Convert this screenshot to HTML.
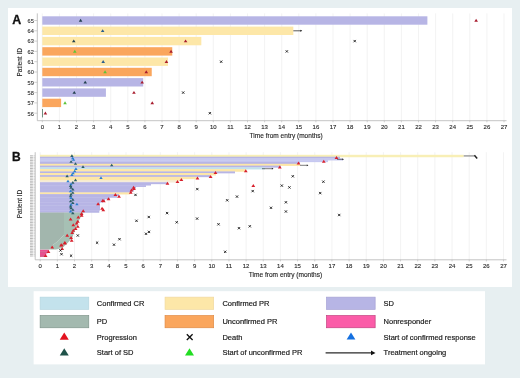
<!DOCTYPE html>
<html><head><meta charset="utf-8">
<style>
html,body{margin:0;padding:0;}
body{width:520px;height:378px;overflow:hidden;background:#e7eff1;font-family:"Liberation Sans",sans-serif;}
svg{display:block;position:absolute;left:0;top:0;filter:blur(0.3px);}
svg text{font-family:"Liberation Sans",sans-serif;}
</style></head>
<body>
<svg width="520" height="378" viewBox="0 0 520 378">
<rect x="0" y="0" width="520" height="378" fill="#e7eff1"/>
<rect x="8" y="8" width="504" height="279" fill="#ffffff"/>
<rect x="33.6" y="291.2" width="451.4" height="73.2" fill="#ffffff"/>
<line x1="42.30" y1="13.4" x2="42.30" y2="120.7" stroke="#eeeeee" stroke-width="0.7"/>
<line x1="59.40" y1="13.4" x2="59.40" y2="120.7" stroke="#eeeeee" stroke-width="0.7"/>
<line x1="76.50" y1="13.4" x2="76.50" y2="120.7" stroke="#eeeeee" stroke-width="0.7"/>
<line x1="93.60" y1="13.4" x2="93.60" y2="120.7" stroke="#eeeeee" stroke-width="0.7"/>
<line x1="110.70" y1="13.4" x2="110.70" y2="120.7" stroke="#eeeeee" stroke-width="0.7"/>
<line x1="127.80" y1="13.4" x2="127.80" y2="120.7" stroke="#eeeeee" stroke-width="0.7"/>
<line x1="144.90" y1="13.4" x2="144.90" y2="120.7" stroke="#eeeeee" stroke-width="0.7"/>
<line x1="162.00" y1="13.4" x2="162.00" y2="120.7" stroke="#eeeeee" stroke-width="0.7"/>
<line x1="179.10" y1="13.4" x2="179.10" y2="120.7" stroke="#eeeeee" stroke-width="0.7"/>
<line x1="196.20" y1="13.4" x2="196.20" y2="120.7" stroke="#eeeeee" stroke-width="0.7"/>
<line x1="213.30" y1="13.4" x2="213.30" y2="120.7" stroke="#eeeeee" stroke-width="0.7"/>
<line x1="230.40" y1="13.4" x2="230.40" y2="120.7" stroke="#eeeeee" stroke-width="0.7"/>
<line x1="247.50" y1="13.4" x2="247.50" y2="120.7" stroke="#eeeeee" stroke-width="0.7"/>
<line x1="264.60" y1="13.4" x2="264.60" y2="120.7" stroke="#eeeeee" stroke-width="0.7"/>
<line x1="281.70" y1="13.4" x2="281.70" y2="120.7" stroke="#eeeeee" stroke-width="0.7"/>
<line x1="298.80" y1="13.4" x2="298.80" y2="120.7" stroke="#eeeeee" stroke-width="0.7"/>
<line x1="315.90" y1="13.4" x2="315.90" y2="120.7" stroke="#eeeeee" stroke-width="0.7"/>
<line x1="333.00" y1="13.4" x2="333.00" y2="120.7" stroke="#eeeeee" stroke-width="0.7"/>
<line x1="350.10" y1="13.4" x2="350.10" y2="120.7" stroke="#eeeeee" stroke-width="0.7"/>
<line x1="367.20" y1="13.4" x2="367.20" y2="120.7" stroke="#eeeeee" stroke-width="0.7"/>
<line x1="384.30" y1="13.4" x2="384.30" y2="120.7" stroke="#eeeeee" stroke-width="0.7"/>
<line x1="401.40" y1="13.4" x2="401.40" y2="120.7" stroke="#eeeeee" stroke-width="0.7"/>
<line x1="418.50" y1="13.4" x2="418.50" y2="120.7" stroke="#eeeeee" stroke-width="0.7"/>
<line x1="435.60" y1="13.4" x2="435.60" y2="120.7" stroke="#eeeeee" stroke-width="0.7"/>
<line x1="452.70" y1="13.4" x2="452.70" y2="120.7" stroke="#eeeeee" stroke-width="0.7"/>
<line x1="469.80" y1="13.4" x2="469.80" y2="120.7" stroke="#eeeeee" stroke-width="0.7"/>
<line x1="486.90" y1="13.4" x2="486.90" y2="120.7" stroke="#eeeeee" stroke-width="0.7"/>
<line x1="504.00" y1="13.4" x2="504.00" y2="120.7" stroke="#eeeeee" stroke-width="0.7"/>
<rect x="42.30" y="16.30" width="385.09" height="8.4" fill="#b7b5e5"/>
<path d="M78.80,21.74L80.60,18.86L82.40,21.74Z" fill="#22404e"/>
<path d="M474.33,21.74L476.13,18.86L477.93,21.74Z" fill="#a81c2e"/>
<line x1="34.3" y1="20.50" x2="37.3" y2="20.50" stroke="#b4b4b4" stroke-width="0.6"/>
<text x="33.8" y="22.80" font-size="5.6" text-anchor="end" fill="#333333" stroke="#333333" stroke-width="0.12">65</text>
<rect x="42.30" y="26.60" width="251.03" height="8.4" fill="#fde7a8"/>
<line x1="293.33" y1="30.80" x2="301.22" y2="30.80" stroke="#111" stroke-width="0.7"/>
<path d="M300.42,29.80L302.22,30.80L300.42,31.80Z" fill="#111"/>
<path d="M100.86,32.04L102.66,29.16L104.46,32.04Z" fill="#2b5f8e"/>
<line x1="34.3" y1="30.80" x2="37.3" y2="30.80" stroke="#b4b4b4" stroke-width="0.6"/>
<text x="33.8" y="33.10" font-size="5.6" text-anchor="end" fill="#333333" stroke="#333333" stroke-width="0.12">64</text>
<rect x="42.30" y="36.90" width="159.03" height="8.4" fill="#fde7a8"/>
<path d="M71.96,42.34L73.76,39.46L75.56,42.34Z" fill="#22404e"/>
<path d="M183.80,42.34L185.60,39.46L187.40,42.34Z" fill="#a81c2e"/>
<path d="M353.57,39.95L355.87,42.25M353.57,42.25L355.87,39.95" stroke="#1a1a1a" stroke-width="0.9" fill="none"/>
<line x1="34.3" y1="41.10" x2="37.3" y2="41.10" stroke="#b4b4b4" stroke-width="0.6"/>
<text x="33.8" y="43.40" font-size="5.6" text-anchor="end" fill="#333333" stroke="#333333" stroke-width="0.12">63</text>
<rect x="42.30" y="47.20" width="129.96" height="8.4" fill="#faa65d"/>
<path d="M72.99,52.64L74.79,49.76L76.59,52.64Z" fill="#5cc43a"/>
<path d="M169.26,52.64L171.06,49.76L172.86,52.64Z" fill="#a81c2e"/>
<path d="M285.68,50.25L287.98,52.55M285.68,52.55L287.98,50.25" stroke="#1a1a1a" stroke-width="0.9" fill="none"/>
<line x1="34.3" y1="51.40" x2="37.3" y2="51.40" stroke="#b4b4b4" stroke-width="0.6"/>
<text x="33.8" y="53.70" font-size="5.6" text-anchor="end" fill="#333333" stroke="#333333" stroke-width="0.12">62</text>
<rect x="42.30" y="57.50" width="125.69" height="8.4" fill="#fde7a8"/>
<path d="M101.38,62.94L103.18,60.06L104.98,62.94Z" fill="#2b5f8e"/>
<path d="M164.65,62.94L166.45,60.06L168.25,62.94Z" fill="#a81c2e"/>
<path d="M220.02,60.55L222.32,62.85M220.02,62.85L222.32,60.55" stroke="#1a1a1a" stroke-width="0.9" fill="none"/>
<line x1="34.3" y1="61.70" x2="37.3" y2="61.70" stroke="#b4b4b4" stroke-width="0.6"/>
<text x="33.8" y="64.00" font-size="5.6" text-anchor="end" fill="#333333" stroke="#333333" stroke-width="0.12">61</text>
<rect x="42.30" y="67.80" width="109.44" height="8.4" fill="#faa65d"/>
<path d="M103.26,73.24L105.06,70.36L106.86,73.24Z" fill="#5cc43a"/>
<path d="M144.47,73.24L146.27,70.36L148.07,73.24Z" fill="#a81c2e"/>
<line x1="34.3" y1="72.00" x2="37.3" y2="72.00" stroke="#b4b4b4" stroke-width="0.6"/>
<text x="33.8" y="74.30" font-size="5.6" text-anchor="end" fill="#333333" stroke="#333333" stroke-width="0.12">60</text>
<rect x="42.30" y="78.10" width="100.89" height="8.4" fill="#b7b5e5"/>
<path d="M83.42,83.54L85.22,80.66L87.02,83.54Z" fill="#22404e"/>
<path d="M140.36,83.54L142.16,80.66L143.96,83.54Z" fill="#a81c2e"/>
<line x1="34.3" y1="82.30" x2="37.3" y2="82.30" stroke="#b4b4b4" stroke-width="0.6"/>
<text x="33.8" y="84.60" font-size="5.6" text-anchor="end" fill="#333333" stroke="#333333" stroke-width="0.12">59</text>
<rect x="42.30" y="88.40" width="63.61" height="8.4" fill="#b7b5e5"/>
<path d="M72.48,93.84L74.28,90.96L76.08,93.84Z" fill="#22404e"/>
<path d="M132.16,93.84L133.96,90.96L135.76,93.84Z" fill="#a81c2e"/>
<path d="M182.05,91.45L184.35,93.75M182.05,93.75L184.35,91.45" stroke="#1a1a1a" stroke-width="0.9" fill="none"/>
<line x1="34.3" y1="92.60" x2="37.3" y2="92.60" stroke="#b4b4b4" stroke-width="0.6"/>
<text x="33.8" y="94.90" font-size="5.6" text-anchor="end" fill="#333333" stroke="#333333" stroke-width="0.12">58</text>
<rect x="42.30" y="98.70" width="18.81" height="8.4" fill="#faa65d"/>
<path d="M63.24,104.14L65.04,101.26L66.84,104.14Z" fill="#5cc43a"/>
<path d="M150.45,104.14L152.25,101.26L154.05,104.14Z" fill="#a81c2e"/>
<line x1="34.3" y1="102.90" x2="37.3" y2="102.90" stroke="#b4b4b4" stroke-width="0.6"/>
<text x="33.8" y="105.20" font-size="5.6" text-anchor="end" fill="#333333" stroke="#333333" stroke-width="0.12">57</text>
<rect x="42.00" y="109.00" width="1.0" height="8.4" fill="#6f8f80"/>
<path d="M43.58,114.44L45.38,111.56L47.18,114.44Z" fill="#a81c2e"/>
<path d="M208.73,112.05L211.03,114.35M208.73,114.35L211.03,112.05" stroke="#1a1a1a" stroke-width="0.9" fill="none"/>
<line x1="34.3" y1="113.20" x2="37.3" y2="113.20" stroke="#b4b4b4" stroke-width="0.6"/>
<text x="33.8" y="115.50" font-size="5.6" text-anchor="end" fill="#333333" stroke="#333333" stroke-width="0.12">56</text>
<line x1="37.3" y1="13.4" x2="37.3" y2="120.7" stroke="#b4b4b4" stroke-width="0.8"/>
<line x1="37.3" y1="120.7" x2="506.5" y2="120.7" stroke="#b4b4b4" stroke-width="0.8"/>
<line x1="42.30" y1="120.7" x2="42.30" y2="122.3" stroke="#b4b4b4" stroke-width="0.6"/>
<text x="42.30" y="128.70" font-size="6" text-anchor="middle" fill="#2a2a2a" stroke="#2a2a2a" stroke-width="0.12">0</text>
<line x1="59.40" y1="120.7" x2="59.40" y2="122.3" stroke="#b4b4b4" stroke-width="0.6"/>
<text x="59.40" y="128.70" font-size="6" text-anchor="middle" fill="#2a2a2a" stroke="#2a2a2a" stroke-width="0.12">1</text>
<line x1="76.50" y1="120.7" x2="76.50" y2="122.3" stroke="#b4b4b4" stroke-width="0.6"/>
<text x="76.50" y="128.70" font-size="6" text-anchor="middle" fill="#2a2a2a" stroke="#2a2a2a" stroke-width="0.12">2</text>
<line x1="93.60" y1="120.7" x2="93.60" y2="122.3" stroke="#b4b4b4" stroke-width="0.6"/>
<text x="93.60" y="128.70" font-size="6" text-anchor="middle" fill="#2a2a2a" stroke="#2a2a2a" stroke-width="0.12">3</text>
<line x1="110.70" y1="120.7" x2="110.70" y2="122.3" stroke="#b4b4b4" stroke-width="0.6"/>
<text x="110.70" y="128.70" font-size="6" text-anchor="middle" fill="#2a2a2a" stroke="#2a2a2a" stroke-width="0.12">4</text>
<line x1="127.80" y1="120.7" x2="127.80" y2="122.3" stroke="#b4b4b4" stroke-width="0.6"/>
<text x="127.80" y="128.70" font-size="6" text-anchor="middle" fill="#2a2a2a" stroke="#2a2a2a" stroke-width="0.12">5</text>
<line x1="144.90" y1="120.7" x2="144.90" y2="122.3" stroke="#b4b4b4" stroke-width="0.6"/>
<text x="144.90" y="128.70" font-size="6" text-anchor="middle" fill="#2a2a2a" stroke="#2a2a2a" stroke-width="0.12">6</text>
<line x1="162.00" y1="120.7" x2="162.00" y2="122.3" stroke="#b4b4b4" stroke-width="0.6"/>
<text x="162.00" y="128.70" font-size="6" text-anchor="middle" fill="#2a2a2a" stroke="#2a2a2a" stroke-width="0.12">7</text>
<line x1="179.10" y1="120.7" x2="179.10" y2="122.3" stroke="#b4b4b4" stroke-width="0.6"/>
<text x="179.10" y="128.70" font-size="6" text-anchor="middle" fill="#2a2a2a" stroke="#2a2a2a" stroke-width="0.12">8</text>
<line x1="196.20" y1="120.7" x2="196.20" y2="122.3" stroke="#b4b4b4" stroke-width="0.6"/>
<text x="196.20" y="128.70" font-size="6" text-anchor="middle" fill="#2a2a2a" stroke="#2a2a2a" stroke-width="0.12">9</text>
<line x1="213.30" y1="120.7" x2="213.30" y2="122.3" stroke="#b4b4b4" stroke-width="0.6"/>
<text x="213.30" y="128.70" font-size="6" text-anchor="middle" fill="#2a2a2a" stroke="#2a2a2a" stroke-width="0.12">10</text>
<line x1="230.40" y1="120.7" x2="230.40" y2="122.3" stroke="#b4b4b4" stroke-width="0.6"/>
<text x="230.40" y="128.70" font-size="6" text-anchor="middle" fill="#2a2a2a" stroke="#2a2a2a" stroke-width="0.12">11</text>
<line x1="247.50" y1="120.7" x2="247.50" y2="122.3" stroke="#b4b4b4" stroke-width="0.6"/>
<text x="247.50" y="128.70" font-size="6" text-anchor="middle" fill="#2a2a2a" stroke="#2a2a2a" stroke-width="0.12">12</text>
<line x1="264.60" y1="120.7" x2="264.60" y2="122.3" stroke="#b4b4b4" stroke-width="0.6"/>
<text x="264.60" y="128.70" font-size="6" text-anchor="middle" fill="#2a2a2a" stroke="#2a2a2a" stroke-width="0.12">13</text>
<line x1="281.70" y1="120.7" x2="281.70" y2="122.3" stroke="#b4b4b4" stroke-width="0.6"/>
<text x="281.70" y="128.70" font-size="6" text-anchor="middle" fill="#2a2a2a" stroke="#2a2a2a" stroke-width="0.12">14</text>
<line x1="298.80" y1="120.7" x2="298.80" y2="122.3" stroke="#b4b4b4" stroke-width="0.6"/>
<text x="298.80" y="128.70" font-size="6" text-anchor="middle" fill="#2a2a2a" stroke="#2a2a2a" stroke-width="0.12">15</text>
<line x1="315.90" y1="120.7" x2="315.90" y2="122.3" stroke="#b4b4b4" stroke-width="0.6"/>
<text x="315.90" y="128.70" font-size="6" text-anchor="middle" fill="#2a2a2a" stroke="#2a2a2a" stroke-width="0.12">16</text>
<line x1="333.00" y1="120.7" x2="333.00" y2="122.3" stroke="#b4b4b4" stroke-width="0.6"/>
<text x="333.00" y="128.70" font-size="6" text-anchor="middle" fill="#2a2a2a" stroke="#2a2a2a" stroke-width="0.12">17</text>
<line x1="350.10" y1="120.7" x2="350.10" y2="122.3" stroke="#b4b4b4" stroke-width="0.6"/>
<text x="350.10" y="128.70" font-size="6" text-anchor="middle" fill="#2a2a2a" stroke="#2a2a2a" stroke-width="0.12">18</text>
<line x1="367.20" y1="120.7" x2="367.20" y2="122.3" stroke="#b4b4b4" stroke-width="0.6"/>
<text x="367.20" y="128.70" font-size="6" text-anchor="middle" fill="#2a2a2a" stroke="#2a2a2a" stroke-width="0.12">19</text>
<line x1="384.30" y1="120.7" x2="384.30" y2="122.3" stroke="#b4b4b4" stroke-width="0.6"/>
<text x="384.30" y="128.70" font-size="6" text-anchor="middle" fill="#2a2a2a" stroke="#2a2a2a" stroke-width="0.12">20</text>
<line x1="401.40" y1="120.7" x2="401.40" y2="122.3" stroke="#b4b4b4" stroke-width="0.6"/>
<text x="401.40" y="128.70" font-size="6" text-anchor="middle" fill="#2a2a2a" stroke="#2a2a2a" stroke-width="0.12">21</text>
<line x1="418.50" y1="120.7" x2="418.50" y2="122.3" stroke="#b4b4b4" stroke-width="0.6"/>
<text x="418.50" y="128.70" font-size="6" text-anchor="middle" fill="#2a2a2a" stroke="#2a2a2a" stroke-width="0.12">22</text>
<line x1="435.60" y1="120.7" x2="435.60" y2="122.3" stroke="#b4b4b4" stroke-width="0.6"/>
<text x="435.60" y="128.70" font-size="6" text-anchor="middle" fill="#2a2a2a" stroke="#2a2a2a" stroke-width="0.12">23</text>
<line x1="452.70" y1="120.7" x2="452.70" y2="122.3" stroke="#b4b4b4" stroke-width="0.6"/>
<text x="452.70" y="128.70" font-size="6" text-anchor="middle" fill="#2a2a2a" stroke="#2a2a2a" stroke-width="0.12">24</text>
<line x1="469.80" y1="120.7" x2="469.80" y2="122.3" stroke="#b4b4b4" stroke-width="0.6"/>
<text x="469.80" y="128.70" font-size="6" text-anchor="middle" fill="#2a2a2a" stroke="#2a2a2a" stroke-width="0.12">25</text>
<line x1="486.90" y1="120.7" x2="486.90" y2="122.3" stroke="#b4b4b4" stroke-width="0.6"/>
<text x="486.90" y="128.70" font-size="6" text-anchor="middle" fill="#2a2a2a" stroke="#2a2a2a" stroke-width="0.12">26</text>
<line x1="504.00" y1="120.7" x2="504.00" y2="122.3" stroke="#b4b4b4" stroke-width="0.6"/>
<text x="504.00" y="128.70" font-size="6" text-anchor="middle" fill="#2a2a2a" stroke="#2a2a2a" stroke-width="0.12">27</text>
<text x="249.6" y="138.1" font-size="7.0" textLength="73.2" lengthAdjust="spacingAndGlyphs" fill="#222" stroke="#222" stroke-width="0.12">Time from entry (months)</text>
<text x="12.3" y="23.6" font-size="12.4" font-weight="bold" fill="#111" stroke="#111" stroke-width="0.3">A</text>
<text transform="translate(21.9,62.3) rotate(-90)" font-size="6.5" text-anchor="middle" fill="#222" stroke="#222" stroke-width="0.12">Patient ID</text>
<line x1="40.20" y1="152.2" x2="40.20" y2="259.8" stroke="#eeeeee" stroke-width="0.7"/>
<line x1="57.36" y1="152.2" x2="57.36" y2="259.8" stroke="#eeeeee" stroke-width="0.7"/>
<line x1="74.52" y1="152.2" x2="74.52" y2="259.8" stroke="#eeeeee" stroke-width="0.7"/>
<line x1="91.68" y1="152.2" x2="91.68" y2="259.8" stroke="#eeeeee" stroke-width="0.7"/>
<line x1="108.84" y1="152.2" x2="108.84" y2="259.8" stroke="#eeeeee" stroke-width="0.7"/>
<line x1="126.00" y1="152.2" x2="126.00" y2="259.8" stroke="#eeeeee" stroke-width="0.7"/>
<line x1="143.16" y1="152.2" x2="143.16" y2="259.8" stroke="#eeeeee" stroke-width="0.7"/>
<line x1="160.32" y1="152.2" x2="160.32" y2="259.8" stroke="#eeeeee" stroke-width="0.7"/>
<line x1="177.48" y1="152.2" x2="177.48" y2="259.8" stroke="#eeeeee" stroke-width="0.7"/>
<line x1="194.64" y1="152.2" x2="194.64" y2="259.8" stroke="#eeeeee" stroke-width="0.7"/>
<line x1="211.80" y1="152.2" x2="211.80" y2="259.8" stroke="#eeeeee" stroke-width="0.7"/>
<line x1="228.96" y1="152.2" x2="228.96" y2="259.8" stroke="#eeeeee" stroke-width="0.7"/>
<line x1="246.12" y1="152.2" x2="246.12" y2="259.8" stroke="#eeeeee" stroke-width="0.7"/>
<line x1="263.28" y1="152.2" x2="263.28" y2="259.8" stroke="#eeeeee" stroke-width="0.7"/>
<line x1="280.44" y1="152.2" x2="280.44" y2="259.8" stroke="#eeeeee" stroke-width="0.7"/>
<line x1="297.60" y1="152.2" x2="297.60" y2="259.8" stroke="#eeeeee" stroke-width="0.7"/>
<line x1="314.76" y1="152.2" x2="314.76" y2="259.8" stroke="#eeeeee" stroke-width="0.7"/>
<line x1="331.92" y1="152.2" x2="331.92" y2="259.8" stroke="#eeeeee" stroke-width="0.7"/>
<line x1="349.08" y1="152.2" x2="349.08" y2="259.8" stroke="#eeeeee" stroke-width="0.7"/>
<line x1="366.24" y1="152.2" x2="366.24" y2="259.8" stroke="#eeeeee" stroke-width="0.7"/>
<line x1="383.40" y1="152.2" x2="383.40" y2="259.8" stroke="#eeeeee" stroke-width="0.7"/>
<line x1="400.56" y1="152.2" x2="400.56" y2="259.8" stroke="#eeeeee" stroke-width="0.7"/>
<line x1="417.72" y1="152.2" x2="417.72" y2="259.8" stroke="#eeeeee" stroke-width="0.7"/>
<line x1="434.88" y1="152.2" x2="434.88" y2="259.8" stroke="#eeeeee" stroke-width="0.7"/>
<line x1="452.04" y1="152.2" x2="452.04" y2="259.8" stroke="#eeeeee" stroke-width="0.7"/>
<line x1="469.20" y1="152.2" x2="469.20" y2="259.8" stroke="#eeeeee" stroke-width="0.7"/>
<line x1="486.36" y1="152.2" x2="486.36" y2="259.8" stroke="#eeeeee" stroke-width="0.7"/>
<line x1="503.52" y1="152.2" x2="503.52" y2="259.8" stroke="#eeeeee" stroke-width="0.7"/>
<rect x="40.0" y="154.80" width="423.70" height="2.45" fill="#f8efb6"/>
<rect x="40.0" y="156.70" width="300.00" height="2.05" fill="#b7b5e5"/>
<rect x="40.0" y="158.40" width="303.00" height="2.05" fill="#c6c8f0"/>
<rect x="40.0" y="160.10" width="288.00" height="2.05" fill="#c6c8f0"/>
<rect x="40.0" y="161.80" width="260.00" height="2.35" fill="#b7b5e5"/>
<rect x="40.0" y="163.80" width="260.00" height="2.15" fill="#fde7a8"/>
<rect x="40.0" y="165.60" width="241.00" height="2.05" fill="#b7b5e5"/>
<rect x="40.0" y="167.30" width="225.00" height="2.15" fill="#c3e2ec"/>
<rect x="40.0" y="169.10" width="206.00" height="2.65" fill="#fde7a8"/>
<rect x="40.0" y="171.40" width="195.00" height="1.95" fill="#b7b5e5"/>
<rect x="40.0" y="173.00" width="176.00" height="2.45" fill="#fde7a8"/>
<rect x="40.0" y="175.10" width="170.00" height="2.05" fill="#b7b5e5"/>
<rect x="40.0" y="176.80" width="158.00" height="2.35" fill="#fde7a8"/>
<rect x="40.0" y="178.80" width="141.00" height="1.95" fill="#fde7a8"/>
<rect x="40.0" y="180.40" width="137.00" height="2.15" fill="#f6ecd8"/>
<rect x="40.0" y="182.20" width="127.00" height="1.95" fill="#b7b5e5"/>
<rect x="40.0" y="183.80" width="111.00" height="1.75" fill="#b7b5e5"/>
<rect x="40.0" y="185.20" width="106.00" height="1.75" fill="#b7b5e5"/>
<rect x="40.0" y="186.60" width="96.00" height="1.75" fill="#b7b5e5"/>
<rect x="40.0" y="188.00" width="95.00" height="1.95" fill="#b7b5e5"/>
<rect x="40.0" y="189.60" width="94.00" height="1.75" fill="#b7b5e5"/>
<rect x="40.0" y="191.00" width="92.00" height="1.75" fill="#b7b5e5"/>
<rect x="40.0" y="192.40" width="90.00" height="2.05" fill="#fde7a8"/>
<rect x="40.0" y="194.10" width="79.00" height="2.05" fill="#b7b5e5"/>
<rect x="40.0" y="195.80" width="77.00" height="1.95" fill="#b7b5e5"/>
<rect x="40.0" y="197.40" width="70.00" height="1.95" fill="#b7b5e5"/>
<rect x="40.0" y="199.00" width="65.00" height="1.95" fill="#b7b5e5"/>
<rect x="40.0" y="200.60" width="63.00" height="1.95" fill="#b7b5e5"/>
<rect x="40.0" y="202.20" width="60.00" height="1.95" fill="#b7b5e5"/>
<rect x="40.0" y="203.80" width="60.00" height="1.95" fill="#b7b5e5"/>
<rect x="40.0" y="205.40" width="60.00" height="1.95" fill="#b7b5e5"/>
<rect x="40.0" y="207.00" width="60.00" height="1.95" fill="#b7b5e5"/>
<rect x="40.0" y="208.60" width="60.00" height="1.95" fill="#b7b5e5"/>
<rect x="40.0" y="210.20" width="59.30" height="2.55" fill="#b7b5e5"/>
<rect x="40.0" y="249.60" width="8.80" height="2.25" fill="#ea4f90"/>
<rect x="40.0" y="251.50" width="7.50" height="1.85" fill="#d9588c"/>
<rect x="40.0" y="253.00" width="6.20" height="2.15" fill="#ea4f90"/>
<rect x="40.0" y="254.80" width="5.20" height="2.15" fill="#d9588c"/>
<path d="M40,212.4L64,212.4L64,234.7L59,240.2L53.3,244.7L50,249.6L40,249.6Z" fill="#a2b6ad"/>
<path d="M64,212.4L84,212.4L82.2,214L78.3,222L75,230L72.2,238L66.7,244L62.2,248L56,249.6L50,249.6L53.3,244.7L59,240.2L64,234.7Z" fill="#a6c0b4"/>
<line x1="463.7" y1="155.9" x2="474.6" y2="155.9" stroke="#a0a0a0" stroke-width="1.5"/>
<line x1="474.4" y1="155.3" x2="477.2" y2="158.4" stroke="#222" stroke-width="1.5"/>
<line x1="337" y1="159.3" x2="343" y2="159.3" stroke="#222" stroke-width="0.6"/>
<path d="M342.40,158.40L344.00,159.30L342.40,160.20Z" fill="#222"/>
<line x1="300" y1="165.3" x2="307.4" y2="165.3" stroke="#222" stroke-width="0.6"/>
<path d="M306.80,164.40L308.40,165.30L306.80,166.20Z" fill="#222"/>
<line x1="262" y1="168.7" x2="272.5" y2="168.7" stroke="#222" stroke-width="0.6"/>
<path d="M271.90,167.80L273.50,168.70L271.90,169.60Z" fill="#222"/>
<path d="M70.20,156.96L71.90,154.24L73.60,156.96Z" fill="#2c5e66"/>
<path d="M71.00,159.36L72.70,156.64L74.40,159.36Z" fill="#2a7fd0"/>
<path d="M71.80,160.86L73.50,158.14L75.20,160.86Z" fill="#2a7fd0"/>
<path d="M69.40,162.86L71.10,160.14L72.80,162.86Z" fill="#2c5e66"/>
<path d="M73.80,164.86L75.50,162.14L77.20,164.86Z" fill="#2c5e66"/>
<path d="M81.30,168.06L83.00,165.34L84.70,168.06Z" fill="#2c5e66"/>
<path d="M74.20,170.06L75.90,167.34L77.60,170.06Z" fill="#2a7fd0"/>
<path d="M73.00,172.36L74.70,169.64L76.40,172.36Z" fill="#2a7fd0"/>
<path d="M71.40,174.36L73.10,171.64L74.80,174.36Z" fill="#2a7fd0"/>
<path d="M70.20,175.96L71.90,173.24L73.60,175.96Z" fill="#2a7fd0"/>
<path d="M65.40,177.16L67.10,174.44L68.80,177.16Z" fill="#2c5e66"/>
<path d="M73.80,181.16L75.50,178.44L77.20,181.16Z" fill="#2c5e66"/>
<path d="M110.00,166.36L111.70,163.64L113.40,166.36Z" fill="#2c5e66"/>
<path d="M99.30,179.06L101.00,176.34L102.70,179.06Z" fill="#2a7fd0"/>
<path d="M66.30,182.36L68.00,179.64L69.70,182.36Z" fill="#2a7fd0"/>
<path d="M75.20,205.36L76.90,202.64L78.60,205.36Z" fill="#2a7fd0"/>
<path d="M71.10,183.66L72.80,180.94L74.50,183.66Z" fill="#2c5e66"/>
<path d="M69.30,185.36L71.00,182.64L72.70,185.36Z" fill="#2a7fd0"/>
<path d="M68.90,187.06L70.60,184.34L72.30,187.06Z" fill="#2c5e66"/>
<path d="M69.30,188.76L71.00,186.04L72.70,188.76Z" fill="#2c5e66"/>
<path d="M71.10,190.46L72.80,187.74L74.50,190.46Z" fill="#2c5e66"/>
<path d="M68.90,192.16L70.60,189.44L72.30,192.16Z" fill="#2a7fd0"/>
<path d="M71.10,193.86L72.80,191.14L74.50,193.86Z" fill="#2c5e66"/>
<path d="M69.30,195.56L71.00,192.84L72.70,195.56Z" fill="#2c5e66"/>
<path d="M68.90,197.26L70.60,194.54L72.30,197.26Z" fill="#2c5e66"/>
<path d="M69.30,198.96L71.00,196.24L72.70,198.96Z" fill="#2a7fd0"/>
<path d="M71.10,200.66L72.80,197.94L74.50,200.66Z" fill="#2c5e66"/>
<path d="M68.90,202.36L70.60,199.64L72.30,202.36Z" fill="#2c5e66"/>
<path d="M71.10,204.06L72.80,201.34L74.50,204.06Z" fill="#2c5e66"/>
<path d="M69.30,205.76L71.00,203.04L72.70,205.76Z" fill="#2a7fd0"/>
<path d="M68.90,207.46L70.60,204.74L72.30,207.46Z" fill="#2c5e66"/>
<path d="M69.30,209.16L71.00,206.44L72.70,209.16Z" fill="#2c5e66"/>
<path d="M71.10,210.86L72.80,208.14L74.50,210.86Z" fill="#2c5e66"/>
<path d="M68.90,212.56L70.60,209.84L72.30,212.56Z" fill="#2a7fd0"/>
<path d="M71.10,214.26L72.80,211.54L74.50,214.26Z" fill="#2c5e66"/>
<path d="M334.60,159.02L336.50,155.98L338.40,159.02Z" fill="#d8202c"/>
<path d="M321.90,162.82L323.80,159.78L325.70,162.82Z" fill="#d8202c"/>
<path d="M296.60,164.52L298.50,161.48L300.40,164.52Z" fill="#d8202c"/>
<path d="M277.90,168.42L279.80,165.38L281.70,168.42Z" fill="#d8202c"/>
<path d="M243.90,172.32L245.80,169.28L247.70,172.32Z" fill="#d8202c"/>
<path d="M213.60,174.02L215.50,170.98L217.40,174.02Z" fill="#d8202c"/>
<path d="M208.70,178.02L210.60,174.98L212.50,178.02Z" fill="#d8202c"/>
<path d="M195.60,179.52L197.50,176.48L199.40,179.52Z" fill="#d8202c"/>
<path d="M179.50,181.12L181.40,178.08L183.30,181.12Z" fill="#d8202c"/>
<path d="M175.60,182.92L177.50,179.88L179.40,182.92Z" fill="#d8202c"/>
<path d="M165.60,184.72L167.50,181.68L169.40,184.72Z" fill="#d8202c"/>
<path d="M132.10,190.12L134.00,187.08L135.90,190.12Z" fill="#d8202c"/>
<path d="M129.60,191.52L131.50,188.48L133.40,191.52Z" fill="#d8202c"/>
<path d="M128.90,193.72L130.80,190.68L132.70,193.72Z" fill="#d8202c"/>
<path d="M113.50,196.12L115.40,193.08L117.30,196.12Z" fill="#d8202c"/>
<path d="M117.10,197.72L119.00,194.68L120.90,197.72Z" fill="#d8202c"/>
<path d="M106.60,200.32L108.50,197.28L110.40,200.32Z" fill="#d8202c"/>
<path d="M101.90,202.32L103.80,199.28L105.70,202.32Z" fill="#d8202c"/>
<path d="M100.80,202.02L102.70,198.98L104.60,202.02Z" fill="#d8202c"/>
<path d="M96.20,205.32L98.10,202.28L100.00,205.32Z" fill="#d8202c"/>
<path d="M100.20,209.72L102.10,206.68L104.00,209.72Z" fill="#d8202c"/>
<path d="M101.40,211.22L103.30,208.18L105.20,211.22Z" fill="#d8202c"/>
<path d="M81.30,212.32L83.20,209.28L85.10,212.32Z" fill="#d8202c"/>
<path d="M79.70,215.02L81.60,211.98L83.50,215.02Z" fill="#d8202c"/>
<path d="M251.40,187.12L253.30,184.08L255.20,187.12Z" fill="#d8202c"/>
<path d="M131.70,188.82L133.60,185.78L135.50,188.82Z" fill="#d8202c"/>
<path d="M68.70,220.42L70.60,217.38L72.50,220.42Z" fill="#d8202c"/>
<path d="M76.40,218.42L78.30,215.38L80.20,218.42Z" fill="#d8202c"/>
<path d="M79.80,216.72L81.70,213.68L83.60,216.72Z" fill="#d8202c"/>
<path d="M75.90,222.82L77.80,219.78L79.70,222.82Z" fill="#d8202c"/>
<path d="M74.80,224.52L76.70,221.48L78.60,224.52Z" fill="#d8202c"/>
<path d="M71.40,226.22L73.30,223.18L75.20,226.22Z" fill="#d8202c"/>
<path d="M75.90,227.82L77.80,224.78L79.70,227.82Z" fill="#d8202c"/>
<path d="M73.70,230.12L75.60,227.08L77.50,230.12Z" fill="#d8202c"/>
<path d="M71.40,231.72L73.30,228.68L75.20,231.72Z" fill="#d8202c"/>
<path d="M70.30,233.92L72.20,230.88L74.10,233.92Z" fill="#d8202c"/>
<path d="M65.30,236.72L67.20,233.68L69.10,236.72Z" fill="#d8202c"/>
<path d="M69.20,238.92L71.10,235.88L73.00,238.92Z" fill="#d8202c"/>
<path d="M69.80,241.72L71.70,238.68L73.60,241.72Z" fill="#d8202c"/>
<path d="M63.10,244.52L65.00,241.48L66.90,244.52Z" fill="#d8202c"/>
<path d="M59.80,246.22L61.70,243.18L63.60,246.22Z" fill="#d8202c"/>
<path d="M50.30,248.42L52.20,245.38L54.10,248.42Z" fill="#d8202c"/>
<path d="M60.30,250.12L62.20,247.08L64.10,250.12Z" fill="#d8202c"/>
<path d="M62.90,244.12L64.80,241.08L66.70,244.12Z" fill="#d8202c"/>
<path d="M59.10,246.52L61.00,243.48L62.90,246.52Z" fill="#d8202c"/>
<path d="M46.60,253.12L48.50,250.08L50.40,253.12Z" fill="#d8202c"/>
<path d="M43.70,256.92L45.60,253.88L47.50,256.92Z" fill="#d8202c"/>
<path d="M95.95,241.55L98.25,243.85M95.95,243.85L98.25,241.55" stroke="#1a1a1a" stroke-width="0.9" fill="none"/>
<path d="M112.85,243.55L115.15,245.85M112.85,245.85L115.15,243.55" stroke="#1a1a1a" stroke-width="0.9" fill="none"/>
<path d="M118.35,238.05L120.65,240.35M118.35,240.35L120.65,238.05" stroke="#1a1a1a" stroke-width="0.9" fill="none"/>
<path d="M135.35,219.65L137.65,221.95M135.35,221.95L137.65,219.65" stroke="#1a1a1a" stroke-width="0.9" fill="none"/>
<path d="M147.65,215.85L149.95,218.15M147.65,218.15L149.95,215.85" stroke="#1a1a1a" stroke-width="0.9" fill="none"/>
<path d="M144.85,232.65L147.15,234.95M144.85,234.95L147.15,232.65" stroke="#1a1a1a" stroke-width="0.9" fill="none"/>
<path d="M147.85,230.75L150.15,233.05M147.85,233.05L150.15,230.75" stroke="#1a1a1a" stroke-width="0.9" fill="none"/>
<path d="M196.15,187.95L198.45,190.25M196.15,190.25L198.45,187.95" stroke="#1a1a1a" stroke-width="0.9" fill="none"/>
<path d="M165.95,211.95L168.25,214.25M165.95,214.25L168.25,211.95" stroke="#1a1a1a" stroke-width="0.9" fill="none"/>
<path d="M175.55,221.15L177.85,223.45M175.55,223.45L177.85,221.15" stroke="#1a1a1a" stroke-width="0.9" fill="none"/>
<path d="M195.95,217.45L198.25,219.75M195.95,219.75L198.25,217.45" stroke="#1a1a1a" stroke-width="0.9" fill="none"/>
<path d="M226.05,199.15L228.35,201.45M226.05,201.45L228.35,199.15" stroke="#1a1a1a" stroke-width="0.9" fill="none"/>
<path d="M235.85,195.45L238.15,197.75M235.85,197.75L238.15,195.45" stroke="#1a1a1a" stroke-width="0.9" fill="none"/>
<path d="M217.35,223.15L219.65,225.45M217.35,225.45L219.65,223.15" stroke="#1a1a1a" stroke-width="0.9" fill="none"/>
<path d="M237.85,227.05L240.15,229.35M237.85,229.35L240.15,227.05" stroke="#1a1a1a" stroke-width="0.9" fill="none"/>
<path d="M224.05,250.65L226.35,252.95M224.05,252.95L226.35,250.65" stroke="#1a1a1a" stroke-width="0.9" fill="none"/>
<path d="M251.55,189.95L253.85,192.25M251.55,192.25L253.85,189.95" stroke="#1a1a1a" stroke-width="0.9" fill="none"/>
<path d="M280.65,184.45L282.95,186.75M280.65,186.75L282.95,184.45" stroke="#1a1a1a" stroke-width="0.9" fill="none"/>
<path d="M288.25,186.25L290.55,188.55M288.25,188.55L290.55,186.25" stroke="#1a1a1a" stroke-width="0.9" fill="none"/>
<path d="M284.75,201.15L287.05,203.45M284.75,203.45L287.05,201.15" stroke="#1a1a1a" stroke-width="0.9" fill="none"/>
<path d="M269.85,206.65L272.15,208.95M269.85,208.95L272.15,206.65" stroke="#1a1a1a" stroke-width="0.9" fill="none"/>
<path d="M284.75,210.35L287.05,212.65M284.75,212.65L287.05,210.35" stroke="#1a1a1a" stroke-width="0.9" fill="none"/>
<path d="M248.65,225.15L250.95,227.45M248.65,227.45L250.95,225.15" stroke="#1a1a1a" stroke-width="0.9" fill="none"/>
<path d="M322.25,180.55L324.55,182.85M322.25,182.85L324.55,180.55" stroke="#1a1a1a" stroke-width="0.9" fill="none"/>
<path d="M319.05,191.95L321.35,194.25M319.05,194.25L321.35,191.95" stroke="#1a1a1a" stroke-width="0.9" fill="none"/>
<path d="M338.05,213.85L340.35,216.15M338.05,216.15L340.35,213.85" stroke="#1a1a1a" stroke-width="0.9" fill="none"/>
<path d="M291.65,175.15L293.95,177.45M291.65,177.45L293.95,175.15" stroke="#1a1a1a" stroke-width="0.9" fill="none"/>
<path d="M134.35,193.75L136.65,196.05M134.35,196.05L136.65,193.75" stroke="#1a1a1a" stroke-width="0.9" fill="none"/>
<path d="M59.35,249.25L61.65,251.55M59.35,251.55L61.65,249.25" stroke="#1a1a1a" stroke-width="0.9" fill="none"/>
<path d="M60.35,253.05L62.65,255.35M60.35,255.35L62.65,253.05" stroke="#1a1a1a" stroke-width="0.9" fill="none"/>
<path d="M69.95,254.55L72.25,256.85M69.95,256.85L72.25,254.55" stroke="#1a1a1a" stroke-width="0.9" fill="none"/>
<path d="M76.65,234.35L78.95,236.65M76.65,236.65L78.95,234.35" stroke="#1a1a1a" stroke-width="0.9" fill="none"/>
<line x1="33.4" y1="155.80" x2="35.2" y2="155.80" stroke="#999" stroke-width="0.4"/>
<line x1="30.0" y1="155.80" x2="32.9" y2="155.80" stroke="#9a9a9a" stroke-width="0.7"/>
<line x1="33.4" y1="157.39" x2="35.2" y2="157.39" stroke="#999" stroke-width="0.4"/>
<line x1="30.0" y1="157.39" x2="32.9" y2="157.39" stroke="#9a9a9a" stroke-width="0.7"/>
<line x1="33.4" y1="158.98" x2="35.2" y2="158.98" stroke="#999" stroke-width="0.4"/>
<line x1="30.0" y1="158.98" x2="32.9" y2="158.98" stroke="#9a9a9a" stroke-width="0.7"/>
<line x1="33.4" y1="160.57" x2="35.2" y2="160.57" stroke="#999" stroke-width="0.4"/>
<line x1="30.0" y1="160.57" x2="32.9" y2="160.57" stroke="#9a9a9a" stroke-width="0.7"/>
<line x1="33.4" y1="162.16" x2="35.2" y2="162.16" stroke="#999" stroke-width="0.4"/>
<line x1="30.0" y1="162.16" x2="32.9" y2="162.16" stroke="#9a9a9a" stroke-width="0.7"/>
<line x1="33.4" y1="163.75" x2="35.2" y2="163.75" stroke="#999" stroke-width="0.4"/>
<line x1="30.0" y1="163.75" x2="32.9" y2="163.75" stroke="#9a9a9a" stroke-width="0.7"/>
<line x1="33.4" y1="165.34" x2="35.2" y2="165.34" stroke="#999" stroke-width="0.4"/>
<line x1="30.0" y1="165.34" x2="32.9" y2="165.34" stroke="#9a9a9a" stroke-width="0.7"/>
<line x1="33.4" y1="166.93" x2="35.2" y2="166.93" stroke="#999" stroke-width="0.4"/>
<line x1="30.0" y1="166.93" x2="32.9" y2="166.93" stroke="#9a9a9a" stroke-width="0.7"/>
<line x1="33.4" y1="168.52" x2="35.2" y2="168.52" stroke="#999" stroke-width="0.4"/>
<line x1="30.0" y1="168.52" x2="32.9" y2="168.52" stroke="#9a9a9a" stroke-width="0.7"/>
<line x1="33.4" y1="170.11" x2="35.2" y2="170.11" stroke="#999" stroke-width="0.4"/>
<line x1="30.0" y1="170.11" x2="32.9" y2="170.11" stroke="#9a9a9a" stroke-width="0.7"/>
<line x1="33.4" y1="171.70" x2="35.2" y2="171.70" stroke="#999" stroke-width="0.4"/>
<line x1="30.0" y1="171.70" x2="32.9" y2="171.70" stroke="#9a9a9a" stroke-width="0.7"/>
<line x1="33.4" y1="173.30" x2="35.2" y2="173.30" stroke="#999" stroke-width="0.4"/>
<line x1="30.0" y1="173.30" x2="32.9" y2="173.30" stroke="#9a9a9a" stroke-width="0.7"/>
<line x1="33.4" y1="174.89" x2="35.2" y2="174.89" stroke="#999" stroke-width="0.4"/>
<line x1="30.0" y1="174.89" x2="32.9" y2="174.89" stroke="#9a9a9a" stroke-width="0.7"/>
<line x1="33.4" y1="176.48" x2="35.2" y2="176.48" stroke="#999" stroke-width="0.4"/>
<line x1="30.0" y1="176.48" x2="32.9" y2="176.48" stroke="#9a9a9a" stroke-width="0.7"/>
<line x1="33.4" y1="178.07" x2="35.2" y2="178.07" stroke="#999" stroke-width="0.4"/>
<line x1="30.0" y1="178.07" x2="32.9" y2="178.07" stroke="#9a9a9a" stroke-width="0.7"/>
<line x1="33.4" y1="179.66" x2="35.2" y2="179.66" stroke="#999" stroke-width="0.4"/>
<line x1="30.0" y1="179.66" x2="32.9" y2="179.66" stroke="#9a9a9a" stroke-width="0.7"/>
<line x1="33.4" y1="181.25" x2="35.2" y2="181.25" stroke="#999" stroke-width="0.4"/>
<line x1="30.0" y1="181.25" x2="32.9" y2="181.25" stroke="#9a9a9a" stroke-width="0.7"/>
<line x1="33.4" y1="182.84" x2="35.2" y2="182.84" stroke="#999" stroke-width="0.4"/>
<line x1="30.0" y1="182.84" x2="32.9" y2="182.84" stroke="#9a9a9a" stroke-width="0.7"/>
<line x1="33.4" y1="184.43" x2="35.2" y2="184.43" stroke="#999" stroke-width="0.4"/>
<line x1="30.0" y1="184.43" x2="32.9" y2="184.43" stroke="#9a9a9a" stroke-width="0.7"/>
<line x1="33.4" y1="186.02" x2="35.2" y2="186.02" stroke="#999" stroke-width="0.4"/>
<line x1="30.0" y1="186.02" x2="32.9" y2="186.02" stroke="#9a9a9a" stroke-width="0.7"/>
<line x1="33.4" y1="187.61" x2="35.2" y2="187.61" stroke="#999" stroke-width="0.4"/>
<line x1="30.0" y1="187.61" x2="32.9" y2="187.61" stroke="#9a9a9a" stroke-width="0.7"/>
<line x1="33.4" y1="189.20" x2="35.2" y2="189.20" stroke="#999" stroke-width="0.4"/>
<line x1="30.0" y1="189.20" x2="32.9" y2="189.20" stroke="#9a9a9a" stroke-width="0.7"/>
<line x1="33.4" y1="190.79" x2="35.2" y2="190.79" stroke="#999" stroke-width="0.4"/>
<line x1="30.0" y1="190.79" x2="32.9" y2="190.79" stroke="#9a9a9a" stroke-width="0.7"/>
<line x1="33.4" y1="192.38" x2="35.2" y2="192.38" stroke="#999" stroke-width="0.4"/>
<line x1="30.0" y1="192.38" x2="32.9" y2="192.38" stroke="#9a9a9a" stroke-width="0.7"/>
<line x1="33.4" y1="193.97" x2="35.2" y2="193.97" stroke="#999" stroke-width="0.4"/>
<line x1="30.0" y1="193.97" x2="32.9" y2="193.97" stroke="#9a9a9a" stroke-width="0.7"/>
<line x1="33.4" y1="195.56" x2="35.2" y2="195.56" stroke="#999" stroke-width="0.4"/>
<line x1="30.0" y1="195.56" x2="32.9" y2="195.56" stroke="#9a9a9a" stroke-width="0.7"/>
<line x1="33.4" y1="197.15" x2="35.2" y2="197.15" stroke="#999" stroke-width="0.4"/>
<line x1="30.0" y1="197.15" x2="32.9" y2="197.15" stroke="#9a9a9a" stroke-width="0.7"/>
<line x1="33.4" y1="198.74" x2="35.2" y2="198.74" stroke="#999" stroke-width="0.4"/>
<line x1="30.0" y1="198.74" x2="32.9" y2="198.74" stroke="#9a9a9a" stroke-width="0.7"/>
<line x1="33.4" y1="200.33" x2="35.2" y2="200.33" stroke="#999" stroke-width="0.4"/>
<line x1="30.0" y1="200.33" x2="32.9" y2="200.33" stroke="#9a9a9a" stroke-width="0.7"/>
<line x1="33.4" y1="201.92" x2="35.2" y2="201.92" stroke="#999" stroke-width="0.4"/>
<line x1="30.0" y1="201.92" x2="32.9" y2="201.92" stroke="#9a9a9a" stroke-width="0.7"/>
<line x1="33.4" y1="203.51" x2="35.2" y2="203.51" stroke="#999" stroke-width="0.4"/>
<line x1="30.0" y1="203.51" x2="32.9" y2="203.51" stroke="#9a9a9a" stroke-width="0.7"/>
<line x1="33.4" y1="205.10" x2="35.2" y2="205.10" stroke="#999" stroke-width="0.4"/>
<line x1="30.0" y1="205.10" x2="32.9" y2="205.10" stroke="#9a9a9a" stroke-width="0.7"/>
<line x1="33.4" y1="206.70" x2="35.2" y2="206.70" stroke="#999" stroke-width="0.4"/>
<line x1="30.0" y1="206.70" x2="32.9" y2="206.70" stroke="#9a9a9a" stroke-width="0.7"/>
<line x1="33.4" y1="208.29" x2="35.2" y2="208.29" stroke="#999" stroke-width="0.4"/>
<line x1="30.0" y1="208.29" x2="32.9" y2="208.29" stroke="#9a9a9a" stroke-width="0.7"/>
<line x1="33.4" y1="209.88" x2="35.2" y2="209.88" stroke="#999" stroke-width="0.4"/>
<line x1="30.0" y1="209.88" x2="32.9" y2="209.88" stroke="#9a9a9a" stroke-width="0.7"/>
<line x1="33.4" y1="211.47" x2="35.2" y2="211.47" stroke="#999" stroke-width="0.4"/>
<line x1="30.0" y1="211.47" x2="32.9" y2="211.47" stroke="#9a9a9a" stroke-width="0.7"/>
<line x1="33.4" y1="213.06" x2="35.2" y2="213.06" stroke="#999" stroke-width="0.4"/>
<line x1="30.0" y1="213.06" x2="32.9" y2="213.06" stroke="#9a9a9a" stroke-width="0.7"/>
<line x1="33.4" y1="214.65" x2="35.2" y2="214.65" stroke="#999" stroke-width="0.4"/>
<line x1="30.0" y1="214.65" x2="32.9" y2="214.65" stroke="#9a9a9a" stroke-width="0.7"/>
<line x1="33.4" y1="216.24" x2="35.2" y2="216.24" stroke="#999" stroke-width="0.4"/>
<line x1="30.0" y1="216.24" x2="32.9" y2="216.24" stroke="#9a9a9a" stroke-width="0.7"/>
<line x1="33.4" y1="217.83" x2="35.2" y2="217.83" stroke="#999" stroke-width="0.4"/>
<line x1="30.0" y1="217.83" x2="32.9" y2="217.83" stroke="#9a9a9a" stroke-width="0.7"/>
<line x1="33.4" y1="219.42" x2="35.2" y2="219.42" stroke="#999" stroke-width="0.4"/>
<line x1="30.0" y1="219.42" x2="32.9" y2="219.42" stroke="#9a9a9a" stroke-width="0.7"/>
<line x1="33.4" y1="221.01" x2="35.2" y2="221.01" stroke="#999" stroke-width="0.4"/>
<line x1="30.0" y1="221.01" x2="32.9" y2="221.01" stroke="#9a9a9a" stroke-width="0.7"/>
<line x1="33.4" y1="222.60" x2="35.2" y2="222.60" stroke="#999" stroke-width="0.4"/>
<line x1="30.0" y1="222.60" x2="32.9" y2="222.60" stroke="#9a9a9a" stroke-width="0.7"/>
<line x1="33.4" y1="224.19" x2="35.2" y2="224.19" stroke="#999" stroke-width="0.4"/>
<line x1="30.0" y1="224.19" x2="32.9" y2="224.19" stroke="#9a9a9a" stroke-width="0.7"/>
<line x1="33.4" y1="225.78" x2="35.2" y2="225.78" stroke="#999" stroke-width="0.4"/>
<line x1="30.0" y1="225.78" x2="32.9" y2="225.78" stroke="#9a9a9a" stroke-width="0.7"/>
<line x1="33.4" y1="227.37" x2="35.2" y2="227.37" stroke="#999" stroke-width="0.4"/>
<line x1="30.0" y1="227.37" x2="32.9" y2="227.37" stroke="#9a9a9a" stroke-width="0.7"/>
<line x1="33.4" y1="228.96" x2="35.2" y2="228.96" stroke="#999" stroke-width="0.4"/>
<line x1="30.0" y1="228.96" x2="32.9" y2="228.96" stroke="#9a9a9a" stroke-width="0.7"/>
<line x1="33.4" y1="230.55" x2="35.2" y2="230.55" stroke="#999" stroke-width="0.4"/>
<line x1="30.0" y1="230.55" x2="32.9" y2="230.55" stroke="#9a9a9a" stroke-width="0.7"/>
<line x1="33.4" y1="232.14" x2="35.2" y2="232.14" stroke="#999" stroke-width="0.4"/>
<line x1="30.0" y1="232.14" x2="32.9" y2="232.14" stroke="#9a9a9a" stroke-width="0.7"/>
<line x1="33.4" y1="233.73" x2="35.2" y2="233.73" stroke="#999" stroke-width="0.4"/>
<line x1="30.0" y1="233.73" x2="32.9" y2="233.73" stroke="#9a9a9a" stroke-width="0.7"/>
<line x1="33.4" y1="235.32" x2="35.2" y2="235.32" stroke="#999" stroke-width="0.4"/>
<line x1="30.0" y1="235.32" x2="32.9" y2="235.32" stroke="#9a9a9a" stroke-width="0.7"/>
<line x1="33.4" y1="236.91" x2="35.2" y2="236.91" stroke="#999" stroke-width="0.4"/>
<line x1="30.0" y1="236.91" x2="32.9" y2="236.91" stroke="#9a9a9a" stroke-width="0.7"/>
<line x1="33.4" y1="238.50" x2="35.2" y2="238.50" stroke="#999" stroke-width="0.4"/>
<line x1="30.0" y1="238.50" x2="32.9" y2="238.50" stroke="#9a9a9a" stroke-width="0.7"/>
<line x1="33.4" y1="240.10" x2="35.2" y2="240.10" stroke="#999" stroke-width="0.4"/>
<line x1="30.0" y1="240.10" x2="32.9" y2="240.10" stroke="#9a9a9a" stroke-width="0.7"/>
<line x1="33.4" y1="241.69" x2="35.2" y2="241.69" stroke="#999" stroke-width="0.4"/>
<line x1="30.0" y1="241.69" x2="32.9" y2="241.69" stroke="#9a9a9a" stroke-width="0.7"/>
<line x1="33.4" y1="243.28" x2="35.2" y2="243.28" stroke="#999" stroke-width="0.4"/>
<line x1="30.0" y1="243.28" x2="32.9" y2="243.28" stroke="#9a9a9a" stroke-width="0.7"/>
<line x1="33.4" y1="244.87" x2="35.2" y2="244.87" stroke="#999" stroke-width="0.4"/>
<line x1="30.0" y1="244.87" x2="32.9" y2="244.87" stroke="#9a9a9a" stroke-width="0.7"/>
<line x1="33.4" y1="246.46" x2="35.2" y2="246.46" stroke="#999" stroke-width="0.4"/>
<line x1="30.0" y1="246.46" x2="32.9" y2="246.46" stroke="#9a9a9a" stroke-width="0.7"/>
<line x1="33.4" y1="248.05" x2="35.2" y2="248.05" stroke="#999" stroke-width="0.4"/>
<line x1="30.0" y1="248.05" x2="32.9" y2="248.05" stroke="#9a9a9a" stroke-width="0.7"/>
<line x1="33.4" y1="249.64" x2="35.2" y2="249.64" stroke="#999" stroke-width="0.4"/>
<line x1="30.0" y1="249.64" x2="32.9" y2="249.64" stroke="#9a9a9a" stroke-width="0.7"/>
<line x1="33.4" y1="251.23" x2="35.2" y2="251.23" stroke="#999" stroke-width="0.4"/>
<line x1="30.0" y1="251.23" x2="32.9" y2="251.23" stroke="#9a9a9a" stroke-width="0.7"/>
<line x1="33.4" y1="252.82" x2="35.2" y2="252.82" stroke="#999" stroke-width="0.4"/>
<line x1="30.0" y1="252.82" x2="32.9" y2="252.82" stroke="#9a9a9a" stroke-width="0.7"/>
<line x1="33.4" y1="254.41" x2="35.2" y2="254.41" stroke="#999" stroke-width="0.4"/>
<line x1="30.0" y1="254.41" x2="32.9" y2="254.41" stroke="#9a9a9a" stroke-width="0.7"/>
<line x1="33.4" y1="256.00" x2="35.2" y2="256.00" stroke="#999" stroke-width="0.4"/>
<line x1="30.0" y1="256.00" x2="32.9" y2="256.00" stroke="#9a9a9a" stroke-width="0.7"/>
<line x1="35.2" y1="152.2" x2="35.2" y2="259.8" stroke="#b4b4b4" stroke-width="0.8"/>
<line x1="35.2" y1="259.8" x2="506.5" y2="259.8" stroke="#b4b4b4" stroke-width="0.8"/>
<line x1="40.20" y1="259.8" x2="40.20" y2="261.40000000000003" stroke="#b4b4b4" stroke-width="0.6"/>
<text x="40.20" y="267.70" font-size="6" text-anchor="middle" fill="#2a2a2a" stroke="#2a2a2a" stroke-width="0.12">0</text>
<line x1="57.36" y1="259.8" x2="57.36" y2="261.40000000000003" stroke="#b4b4b4" stroke-width="0.6"/>
<text x="57.36" y="267.70" font-size="6" text-anchor="middle" fill="#2a2a2a" stroke="#2a2a2a" stroke-width="0.12">1</text>
<line x1="74.52" y1="259.8" x2="74.52" y2="261.40000000000003" stroke="#b4b4b4" stroke-width="0.6"/>
<text x="74.52" y="267.70" font-size="6" text-anchor="middle" fill="#2a2a2a" stroke="#2a2a2a" stroke-width="0.12">2</text>
<line x1="91.68" y1="259.8" x2="91.68" y2="261.40000000000003" stroke="#b4b4b4" stroke-width="0.6"/>
<text x="91.68" y="267.70" font-size="6" text-anchor="middle" fill="#2a2a2a" stroke="#2a2a2a" stroke-width="0.12">3</text>
<line x1="108.84" y1="259.8" x2="108.84" y2="261.40000000000003" stroke="#b4b4b4" stroke-width="0.6"/>
<text x="108.84" y="267.70" font-size="6" text-anchor="middle" fill="#2a2a2a" stroke="#2a2a2a" stroke-width="0.12">4</text>
<line x1="126.00" y1="259.8" x2="126.00" y2="261.40000000000003" stroke="#b4b4b4" stroke-width="0.6"/>
<text x="126.00" y="267.70" font-size="6" text-anchor="middle" fill="#2a2a2a" stroke="#2a2a2a" stroke-width="0.12">5</text>
<line x1="143.16" y1="259.8" x2="143.16" y2="261.40000000000003" stroke="#b4b4b4" stroke-width="0.6"/>
<text x="143.16" y="267.70" font-size="6" text-anchor="middle" fill="#2a2a2a" stroke="#2a2a2a" stroke-width="0.12">6</text>
<line x1="160.32" y1="259.8" x2="160.32" y2="261.40000000000003" stroke="#b4b4b4" stroke-width="0.6"/>
<text x="160.32" y="267.70" font-size="6" text-anchor="middle" fill="#2a2a2a" stroke="#2a2a2a" stroke-width="0.12">7</text>
<line x1="177.48" y1="259.8" x2="177.48" y2="261.40000000000003" stroke="#b4b4b4" stroke-width="0.6"/>
<text x="177.48" y="267.70" font-size="6" text-anchor="middle" fill="#2a2a2a" stroke="#2a2a2a" stroke-width="0.12">8</text>
<line x1="194.64" y1="259.8" x2="194.64" y2="261.40000000000003" stroke="#b4b4b4" stroke-width="0.6"/>
<text x="194.64" y="267.70" font-size="6" text-anchor="middle" fill="#2a2a2a" stroke="#2a2a2a" stroke-width="0.12">9</text>
<line x1="211.80" y1="259.8" x2="211.80" y2="261.40000000000003" stroke="#b4b4b4" stroke-width="0.6"/>
<text x="211.80" y="267.70" font-size="6" text-anchor="middle" fill="#2a2a2a" stroke="#2a2a2a" stroke-width="0.12">10</text>
<line x1="228.96" y1="259.8" x2="228.96" y2="261.40000000000003" stroke="#b4b4b4" stroke-width="0.6"/>
<text x="228.96" y="267.70" font-size="6" text-anchor="middle" fill="#2a2a2a" stroke="#2a2a2a" stroke-width="0.12">11</text>
<line x1="246.12" y1="259.8" x2="246.12" y2="261.40000000000003" stroke="#b4b4b4" stroke-width="0.6"/>
<text x="246.12" y="267.70" font-size="6" text-anchor="middle" fill="#2a2a2a" stroke="#2a2a2a" stroke-width="0.12">12</text>
<line x1="263.28" y1="259.8" x2="263.28" y2="261.40000000000003" stroke="#b4b4b4" stroke-width="0.6"/>
<text x="263.28" y="267.70" font-size="6" text-anchor="middle" fill="#2a2a2a" stroke="#2a2a2a" stroke-width="0.12">13</text>
<line x1="280.44" y1="259.8" x2="280.44" y2="261.40000000000003" stroke="#b4b4b4" stroke-width="0.6"/>
<text x="280.44" y="267.70" font-size="6" text-anchor="middle" fill="#2a2a2a" stroke="#2a2a2a" stroke-width="0.12">14</text>
<line x1="297.60" y1="259.8" x2="297.60" y2="261.40000000000003" stroke="#b4b4b4" stroke-width="0.6"/>
<text x="297.60" y="267.70" font-size="6" text-anchor="middle" fill="#2a2a2a" stroke="#2a2a2a" stroke-width="0.12">15</text>
<line x1="314.76" y1="259.8" x2="314.76" y2="261.40000000000003" stroke="#b4b4b4" stroke-width="0.6"/>
<text x="314.76" y="267.70" font-size="6" text-anchor="middle" fill="#2a2a2a" stroke="#2a2a2a" stroke-width="0.12">16</text>
<line x1="331.92" y1="259.8" x2="331.92" y2="261.40000000000003" stroke="#b4b4b4" stroke-width="0.6"/>
<text x="331.92" y="267.70" font-size="6" text-anchor="middle" fill="#2a2a2a" stroke="#2a2a2a" stroke-width="0.12">17</text>
<line x1="349.08" y1="259.8" x2="349.08" y2="261.40000000000003" stroke="#b4b4b4" stroke-width="0.6"/>
<text x="349.08" y="267.70" font-size="6" text-anchor="middle" fill="#2a2a2a" stroke="#2a2a2a" stroke-width="0.12">18</text>
<line x1="366.24" y1="259.8" x2="366.24" y2="261.40000000000003" stroke="#b4b4b4" stroke-width="0.6"/>
<text x="366.24" y="267.70" font-size="6" text-anchor="middle" fill="#2a2a2a" stroke="#2a2a2a" stroke-width="0.12">19</text>
<line x1="383.40" y1="259.8" x2="383.40" y2="261.40000000000003" stroke="#b4b4b4" stroke-width="0.6"/>
<text x="383.40" y="267.70" font-size="6" text-anchor="middle" fill="#2a2a2a" stroke="#2a2a2a" stroke-width="0.12">20</text>
<line x1="400.56" y1="259.8" x2="400.56" y2="261.40000000000003" stroke="#b4b4b4" stroke-width="0.6"/>
<text x="400.56" y="267.70" font-size="6" text-anchor="middle" fill="#2a2a2a" stroke="#2a2a2a" stroke-width="0.12">21</text>
<line x1="417.72" y1="259.8" x2="417.72" y2="261.40000000000003" stroke="#b4b4b4" stroke-width="0.6"/>
<text x="417.72" y="267.70" font-size="6" text-anchor="middle" fill="#2a2a2a" stroke="#2a2a2a" stroke-width="0.12">22</text>
<line x1="434.88" y1="259.8" x2="434.88" y2="261.40000000000003" stroke="#b4b4b4" stroke-width="0.6"/>
<text x="434.88" y="267.70" font-size="6" text-anchor="middle" fill="#2a2a2a" stroke="#2a2a2a" stroke-width="0.12">23</text>
<line x1="452.04" y1="259.8" x2="452.04" y2="261.40000000000003" stroke="#b4b4b4" stroke-width="0.6"/>
<text x="452.04" y="267.70" font-size="6" text-anchor="middle" fill="#2a2a2a" stroke="#2a2a2a" stroke-width="0.12">24</text>
<line x1="469.20" y1="259.8" x2="469.20" y2="261.40000000000003" stroke="#b4b4b4" stroke-width="0.6"/>
<text x="469.20" y="267.70" font-size="6" text-anchor="middle" fill="#2a2a2a" stroke="#2a2a2a" stroke-width="0.12">25</text>
<line x1="486.36" y1="259.8" x2="486.36" y2="261.40000000000003" stroke="#b4b4b4" stroke-width="0.6"/>
<text x="486.36" y="267.70" font-size="6" text-anchor="middle" fill="#2a2a2a" stroke="#2a2a2a" stroke-width="0.12">26</text>
<line x1="503.52" y1="259.8" x2="503.52" y2="261.40000000000003" stroke="#b4b4b4" stroke-width="0.6"/>
<text x="503.52" y="267.70" font-size="6" text-anchor="middle" fill="#2a2a2a" stroke="#2a2a2a" stroke-width="0.12">27</text>
<text x="248.8" y="277.0" font-size="7.0" textLength="73.4" lengthAdjust="spacingAndGlyphs" fill="#222" stroke="#222" stroke-width="0.12">Time from entry (months)</text>
<text x="12.1" y="160.5" font-size="12" font-weight="bold" fill="#111" stroke="#111" stroke-width="0.3">B</text>
<text transform="translate(21.9,204.0) rotate(-90)" font-size="6.5" text-anchor="middle" fill="#222" stroke="#222" stroke-width="0.12">Patient ID</text>
<rect x="40.15" y="297.15" width="48.60" height="12.20" fill="#c3e2ec" stroke="#b5d6e0" stroke-width="0.7"/>
<text x="96.8" y="305.80" font-size="7.5" fill="#1a1a1a" stroke="#1a1a1a" stroke-width="0.18">Confirmed CR</text>
<rect x="165.05" y="297.15" width="48.60" height="12.20" fill="#fde7a8" stroke="#f0d9a0" stroke-width="0.7"/>
<text x="222.4" y="305.80" font-size="7.5" fill="#1a1a1a" stroke="#1a1a1a" stroke-width="0.18">Confirmed PR</text>
<rect x="326.55" y="297.15" width="48.60" height="12.20" fill="#b7b5e5" stroke="#a6a2d4" stroke-width="0.7"/>
<text x="383.6" y="305.80" font-size="7.5" fill="#1a1a1a" stroke="#1a1a1a" stroke-width="0.18">SD</text>
<rect x="40.15" y="315.55" width="48.60" height="12.20" fill="#a3b9af" stroke="#7f958b" stroke-width="0.7"/>
<text x="96.8" y="323.90" font-size="7.5" fill="#1a1a1a" stroke="#1a1a1a" stroke-width="0.18">PD</text>
<rect x="165.05" y="315.55" width="48.60" height="12.20" fill="#faa65d" stroke="#e08a45" stroke-width="0.7"/>
<text x="222.4" y="323.90" font-size="7.5" fill="#1a1a1a" stroke="#1a1a1a" stroke-width="0.18">Unconfirmed PR</text>
<rect x="326.55" y="315.55" width="48.60" height="12.20" fill="#fb5ca8" stroke="#c2407f" stroke-width="0.7"/>
<text x="383.6" y="323.90" font-size="7.5" fill="#1a1a1a" stroke="#1a1a1a" stroke-width="0.18">Nonresponder</text>
<path d="M59.75,339.70L64.25,332.50L68.75,339.70Z" fill="#e3121f"/>
<text x="96.8" y="339.50" font-size="7.5" fill="#1a1a1a" stroke="#1a1a1a" stroke-width="0.18">Progression</text>
<path d="M186.80,334.20L192.60,340.00M186.80,340.00L192.60,334.20" stroke="#111" stroke-width="1.3" fill="none"/>
<text x="222.4" y="339.50" font-size="7.5" fill="#1a1a1a" stroke="#1a1a1a" stroke-width="0.18">Death</text>
<path d="M346.60,339.52L351.00,332.48L355.40,339.52Z" fill="#1570e0"/>
<text x="383.6" y="339.50" font-size="7.5" fill="#1a1a1a" stroke="#1a1a1a" stroke-width="0.18">Start of confirmed response</text>
<path d="M59.75,355.40L64.25,348.20L68.75,355.40Z" fill="#1f5249"/>
<text x="96.8" y="355.30" font-size="7.5" fill="#1a1a1a" stroke="#1a1a1a" stroke-width="0.18">Start of SD</text>
<path d="M185.00,355.40L189.50,348.20L194.00,355.40Z" fill="#22dd22"/>
<text x="222.4" y="355.30" font-size="7.5" fill="#1a1a1a" stroke="#1a1a1a" stroke-width="0.18">Start of unconfirmed PR</text>
<line x1="325.6" y1="352.9" x2="373" y2="352.9" stroke="#2a2a2a" stroke-width="1.2"/>
<path d="M371.0,350.6L375.5,352.9L371.0,355.2Z" fill="#111"/>
<text x="383.6" y="355.30" font-size="7.5" fill="#1a1a1a" stroke="#1a1a1a" stroke-width="0.18">Treatment ongoing</text>
</svg>
</body></html>
